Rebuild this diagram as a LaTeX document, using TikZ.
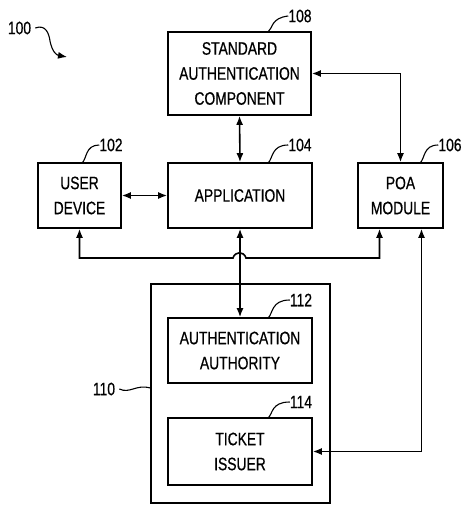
\documentclass[tikz,border=0pt]{standalone}
\usepackage{fontspec}
\setmainfont[FakeStretch=0.77,FakeBold=0.6]{Liberation Sans}
\usetikzlibrary{arrows.meta}
\begin{document}
\begin{tikzpicture}[x=1pt,y=-1pt,
    block/.style={draw, line width=1.6pt, align=center, inner sep=0pt,
      font=\fontsize{18}{25}\selectfont},
    link/.style={line width=1.6pt,
      {Latex[length=9pt,width=7pt]}-{Latex[length=9pt,width=7pt]}},
    lead/.style={line width=1.1pt},
    tag/.style={inner sep=0pt, font=\fontsize{18}{25}\selectfont}]
  \useasboundingbox (0,0) rectangle (474,518);

  % outer box first
  \node[block, line width=1.3pt, minimum width=179pt, minimum height=219pt] (auth) at (240.5,393.5) {};

  \node[block, minimum width=143pt, minimum height=83pt] (sac) at (239.5,73.5) {STANDARD\\AUTHENTICATION\\COMPONENT};
  \node[block, minimum width=83pt, minimum height=65pt] (udev) at (79.5,195.5) {USER\\DEVICE};
  \node[block, minimum width=144pt, minimum height=65pt] (app) at (240,195.5) {APPLICATION};
  \node[block, minimum width=85pt, minimum height=65pt] (poa) at (400.5,195.5) {POA\\MODULE};
  \node[block, minimum width=144pt, minimum height=65pt] (aa) at (240,350.5) {AUTHENTICATION\\AUTHORITY};
  \node[block, minimum width=144pt, minimum height=67pt] (ti) at (240,451.5) {TICKET\\ISSUER};

  % reference numerals
  \node[tag] (t100) at (19.5,28) {100};
  \node[tag] (t108) at (300,16) {108};
  \node[tag] (t102) at (111,145) {102};
  \node[tag] (t104) at (300,145) {104};
  \node[tag] (t106) at (450,145) {106};
  \node[tag] (t112) at (301,300) {112};
  \node[tag] (t114) at (301,402) {114};
  \node[tag] (t110) at (104,389) {110};

  \draw[lead] (268,32) .. controls (273,28) and (271,18) .. (t108.west);
  \draw[lead] (82,163) .. controls (87,159) and (85,145) .. (t102.west);
  \draw[lead] (268,163) .. controls (273,159) and (271,145) .. (t104.west);
  \draw[lead] (420,163) .. controls (425,159) and (423,145) .. (t106.west);
  \draw[lead] (268,318) .. controls (273,314) and (271,300) .. (t112.west);
  \draw[lead] (268,418) .. controls (273,414) and (271,402) .. (t114.west);
  \draw[lead] ([xshift=4pt]t110.east) .. controls (130,394) and (136,384) .. (auth.west |- 0,388);
  \draw[lead, -{Latex[length=9pt,width=7pt]}] ([xshift=4pt]t100.east) .. controls (46,24) and (49,34) .. (50,41)
    .. controls (52,51) and (56,55) .. (67,57);

  % connectors
  \coordinate (hopL) at (233,258);
  \coordinate (hopR) at (246,258);
  \draw[link] (sac.south) -- (app.north);
  \draw[link] (udev.east) -- (app.west);
  \draw[link] (sac.east) -| (poa.north);
  \draw[link] (udev.south) |- (hopL) .. controls +(2,-7) and +(-2,-7) .. (hopR) -| ([xshift=-21pt]poa.south);
  \draw[link] (app.south) -- (aa.north);
  \draw[link] ([xshift=21pt]poa.south) |- (ti.east);
\end{tikzpicture}
\end{document}
